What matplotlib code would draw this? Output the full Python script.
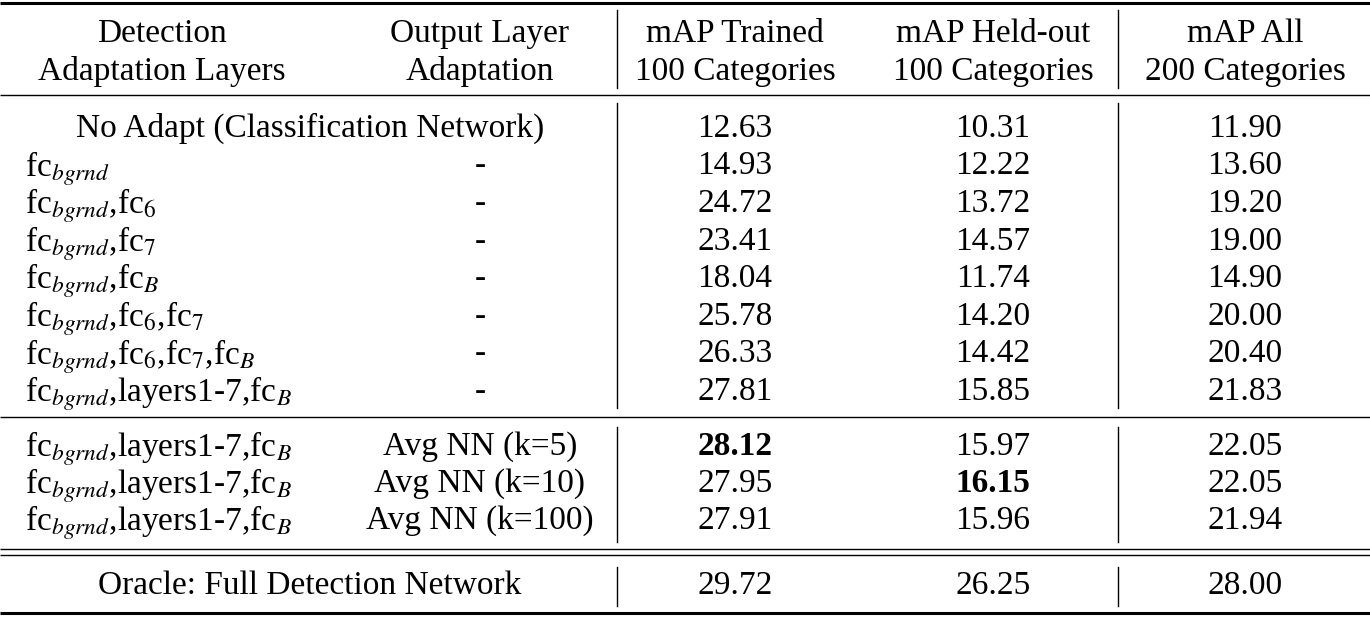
import matplotlib.pyplot as plt

plt.rcParams.update({
    "font.family": "serif",
    "font.serif": ["Liberation Serif", "Times New Roman", "DejaVu Serif"],
    "mathtext.fontset": "stix",
})

BG = r"fc$_{bgrnd}$"
adapt_layers = [
    BG, BG + r",fc$_6$", BG + r",fc$_7$", BG + r",fc$_B$",
    BG + r",fc$_6$,fc$_7$", BG + r",fc$_6$,fc$_7$,fc$_B$",
    BG + r",layers1-7,fc$_B$",
]
output_adapt = ["-"] * 7
trained = ["14.93", "24.72", "23.41", "18.04", "25.78", "26.33", "27.81"]
heldout = ["12.22", "13.72", "14.57", "11.74", "14.20", "14.42", "15.85"]
all200 = ["13.60", "19.20", "19.00", "14.90", "20.00", "20.40", "21.83"]

nn_layers = [BG + r",layers1-7,fc$_B$"] * 3
nn_output = ["Avg NN (k=5)", "Avg NN (k=10)", "Avg NN (k=100)"]
nn_trained = ["28.12", "27.95", "27.91"]
nn_heldout = ["15.97", "16.15", "15.96"]
nn_all = ["22.05", "22.05", "21.94"]
nn_bold = [(0, 0), (1, 1)]  # (row, column among the three mAP cols)

base_row = ["No Adapt (Classification Network)", "12.63", "10.31", "11.90"]
oracle_row = ["Oracle: Full Detection Network", "29.72", "26.25", "28.00"]

headers = [("Detection\nAdaptation Layers", 162), ("Output Layer\nAdaptation", 480),
           ("mAP Trained\n100 Categories", 735), ("mAP Held-out\n100 Categories", 993),
           ("mAP All\n200 Categories", 1245)]

W, H = 1370, 617
fig = plt.figure(figsize=(W / 100, H / 100), dpi=100)
ax = fig.add_axes([0, 0, 1, 1])
ax.set_xlim(0, W)
ax.set_ylim(H, 0)
ax.axis("off")

FS = 24
XL, XOUT, XSPAN = 25, 480, 310
XNUM = [735, 993, 1245]
VLINES = [617, 1118]


def txt(x, y, s, ha="center", bold=False):
    ax.text(x, y, s, ha=ha, va="center_baseline", fontsize=FS,
            fontweight="bold" if bold else "normal")


def hrule(y, lw=1.0):
    ax.plot([0, W], [y, y], color="black", linewidth=lw, solid_capstyle="butt")


def vlines(y0, y1):
    for x in VLINES:
        ax.plot([x, x], [y0, y1], color="black", linewidth=1.0)


# header
hrule(3, 2.2)
for s, x in headers:
    for k, line in enumerate(s.split("\n")):
        txt(x, 30 + 38 * k, line)
vlines(10, 88)
hrule(95, 1.0)

# first block
ys = [125 + 37.6 * i for i in range(8)]
txt(XSPAN, ys[0], base_row[0])
for j, v in enumerate(base_row[1:]):
    txt(XNUM[j], ys[0], v)
for i in range(7):
    y = ys[i + 1]
    txt(XL, y, adapt_layers[i], ha="left")
    txt(XOUT, y, output_adapt[i])
    for j, col in enumerate([trained, heldout, all200]):
        txt(XNUM[j], y, col[i])
vlines(103, 408)
hrule(417, 1.0)

# nearest neighbour block
ys2 = [443, 480, 517]
for i in range(3):
    y = ys2[i]
    txt(XL, y, nn_layers[i], ha="left")
    txt(XOUT, y, nn_output[i])
    for j, col in enumerate([nn_trained, nn_heldout, nn_all]):
        txt(XNUM[j], y, col[i], bold=(i, j) in nn_bold)
vlines(427, 542)
hrule(549, 1.0)
hrule(555, 1.0)

# oracle
txt(XSPAN, 582, oracle_row[0])
for j, v in enumerate(oracle_row[1:]):
    txt(XNUM[j], 582, v)
vlines(567, 606)
hrule(613, 2.2)

fig.savefig("out.png", dpi=100)
